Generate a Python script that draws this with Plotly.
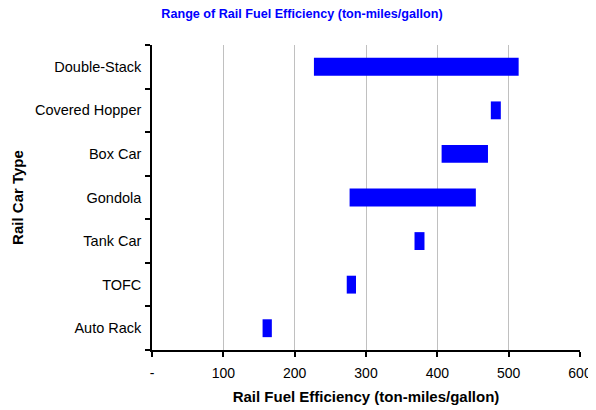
import plotly.graph_objects as go

# rail car types, bottom to top as drawn
car_types = ["Auto Rack", "TOFC", "Tank Car", "Gondola", "Box Car", "Covered Hopper", "Double-Stack"]
# low and high end of each efficiency range (ton-miles/gallon)
range_low = [155, 273, 368, 277, 406, 475, 227]
range_high = [168, 286, 382, 454, 471, 489, 514]

x_tickvals = [0, 100, 200, 300, 400, 500, 600]
x_ticktext = ["-", "100", "200", "300", "400", "500", "600"]

widths = [hi - lo for lo, hi in zip(range_low, range_high)]

fig = go.Figure()
fig.add_trace(go.Bar(
    y=car_types, x=widths, base=range_low, orientation="h",
    marker=dict(color="#0000ff", line=dict(width=0)),
    width=0.41, showlegend=False,
))

# page body adds an 8px margin, so the figure is sized to fit inside the window
fig.update_layout(
    width=588, height=402,
    margin=dict(l=144, r=16, t=37, b=60, autoexpand=False),
    paper_bgcolor="white", plot_bgcolor="white",
    font=dict(family="Liberation Sans, Arial, sans-serif", size=14, color="black"),
    title=dict(text="<b>Range of Rail Fuel Efficiency (ton-miles/gallon)</b>",
               font=dict(size=12.6, color="#0000ff"),
               x=0.5, xanchor="center", y=0.985, yanchor="middle"),
)

fig.update_xaxes(
    range=[0, 600], tickvals=x_tickvals, ticktext=x_ticktext,
    showgrid=True, gridcolor="#c0c0c0", gridwidth=1,
    showline=True, linecolor="black", linewidth=1.5,
    ticks="outside", ticklen=5, tickcolor="black", tickwidth=1.5,
    zeroline=False, automargin=False, ticklabelstandoff=4,
    tickfont=dict(size=14),
    title=dict(text="<b>Rail Fuel Efficiency (ton-miles/gallon)</b>", font=dict(size=15), standoff=12),
)
fig.update_yaxes(
    categoryorder="array", categoryarray=car_types,
    showgrid=False, automargin=False,
    showline=True, linecolor="black", linewidth=1.5,
    ticks="outside", ticklen=5, tickcolor="black", tickwidth=1.5,
    tickson="boundaries", ticklabelstandoff=6,
    tickfont=dict(size=14.5),
    title=dict(text="<b>Rail Car Type</b>", font=dict(size=15), standoff=8),
)

fig.write_html("out.html")
